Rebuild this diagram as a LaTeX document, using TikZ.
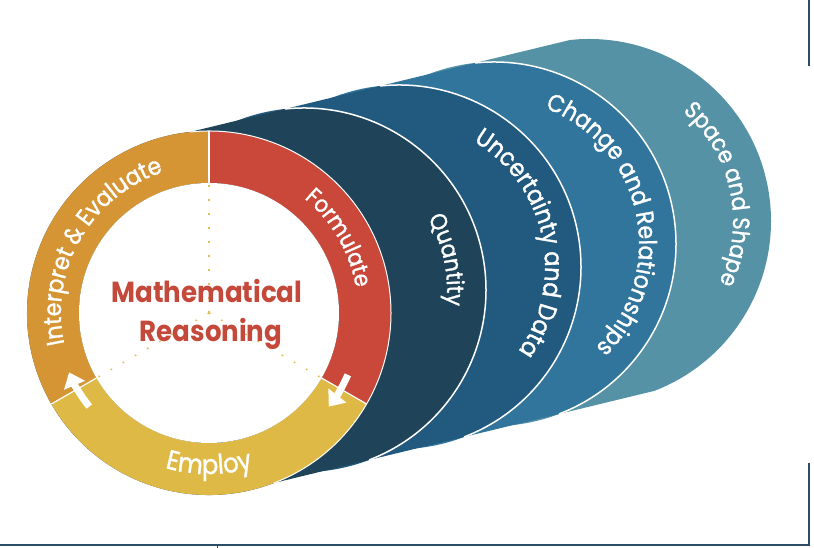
\documentclass[tikz,border=0pt]{standalone}
\usepackage{fontspec}
\setmainfont{Poppins}
\newfontfamily\lblfont[FakeStretch=0.9,FakeBold=1.3]{Poppins}
\newfontfamily\ttlfont[FakeStretch=0.9]{Poppins}
\usetikzlibrary{decorations.text,arrows.meta,calc}
\definecolor{cInterp}{HTML}{D59535}
\definecolor{cForm}{HTML}{C94839}
\definecolor{cEmploy}{HTML}{DFB946}
\definecolor{cQuant}{HTML}{1F4459}
\definecolor{cUnc}{HTML}{22597E}
\definecolor{cChange}{HTML}{31759D}
\definecolor{cSpace}{HTML}{5592A5}
\definecolor{cTitle}{HTML}{C4493A}
\definecolor{cDot}{HTML}{E6BE50}
\definecolor{cFrame}{HTML}{2D4D66}
\newcommand\discshape[3]{%
  \fill[#3] ($(#1)+(96:182pt)$) -- ($(#2)+(96:182pt)$)
    arc[start angle=96,end angle=-69,radius=182pt]
    -- ($(#1)+(-69:182pt)$) arc[start angle=-69,end angle=-264,radius=182pt] -- cycle;}
\newcommand\discedge[1]{%
  \draw[edgeline] ($(#1)+(96:182pt)$) arc[start angle=96,end angle=-69,radius=182pt];}
\newcommand\arctext[6]{% center, radius, start, end, size, text
  \path[decorate,decoration={text along path,text align=center,text color=white,
    text={|\lblfont\fontsize{#5}{#5}\selectfont|#6}}]
    ($(#1)+(#3:#2)$) arc[start angle=#3,end angle=#4,radius=#2];}
\begin{document}
\begin{tikzpicture}[x=1pt,y=1pt,
  edgeline/.style={white,line width=1.5pt},
  divline/.style={white,line width=1.2pt},
  dotline/.style={cDot,line width=1.6pt,dash pattern=on 1.6pt off 12.4pt},
  cyclearrow/.style={white,line width=7pt,-{Triangle[width=22pt,length=14pt]}},
  framel/.style={cFrame,line width=2pt},
]
\useasboundingbox (0,0) rectangle (814,548);
\coordinate (c0) at (209,235);
\coordinate (c1) at (304,258);
\coordinate (c2) at (399,281);
\coordinate (c3) at (494,304);
\coordinate (c4) at (589,327);
% discs, back to front
\discshape{c3}{c4}{cSpace}
\discshape{c2}{c3}{cChange}
\discedge{c3}
\discshape{c1}{c2}{cUnc}
\discedge{c2}
\discshape{c0}{c1}{cQuant}
\discedge{c1}
% ring
\fill[cForm] ($(c0)+(90:182pt)$) arc[start angle=90,end angle=-30,radius=182pt]
  -- ($(c0)+(-30:130pt)$) arc[start angle=-30,end angle=90,radius=130pt] -- cycle;
\fill[cEmploy] ($(c0)+(-30:182pt)$) arc[start angle=-30,end angle=-150,radius=182pt]
  -- ($(c0)+(-150:130pt)$) arc[start angle=-150,end angle=-30,radius=130pt] -- cycle;
\fill[cInterp] ($(c0)+(210:182pt)$) arc[start angle=210,end angle=90,radius=182pt]
  -- ($(c0)+(90:130pt)$) arc[start angle=90,end angle=210,radius=130pt] -- cycle;
\fill[white] (c0) circle[radius=130pt];
\draw[white,line width=1pt] ($(c0)+(96:182pt)$) arc[start angle=96,end angle=-69,radius=182pt];
\foreach \a in {90,210,330}{
  \draw[divline] ($(c0)+(\a:130pt)$) -- ($(c0)+(\a:182pt)$);
  \draw[dotline] (c0) -- ($(c0)+(\a:130pt)$);
}
% cycle arrows
\draw[cyclearrow] ($(c0)+(-24:152pt)$) arc[start angle=-24,end angle=-38,radius=152pt];
\draw[cyclearrow] ($(c0)+(218:152pt)$) arc[start angle=218,end angle=203,radius=152pt];
% ring labels
\arctext{c0}{149pt}{90}{-30}{23}{Formulate}
\arctext{c0}{148pt}{240}{60}{24.5}{Interpret {\&} Evaluate}
\arctext{c0}{161pt}{210}{330}{27}{Employ}
% disc labels
\arctext{c1}{143pt}{102}{-78}{23.5}{Quantity}
\arctext{c2}{146pt}{102}{-78}{25}{Uncertainty and Data}
\arctext{c3}{145pt}{102}{-78}{24.5}{Change and Relationships}
\arctext{c4}{144pt}{102}{-78}{23.5}{Space and Shape}
% title
\node[anchor=base,text=cTitle,font=\ttlfont\bfseries\fontsize{29}{29}\selectfont,inner sep=0pt] (mr1) at (207,245) {Mathematical};
\node[anchor=base,text=cTitle,font=\ttlfont\bfseries\fontsize{29}{29}\selectfont,inner sep=0pt] (mr2) at (211,206) {Reasoning};
% frame
\draw[framel] (809,548) -- (809,482);
\draw[framel] (809,85) -- (809,3) -- (0,3);
\draw[cFrame,line width=1pt] (217,3) -- (217,0);
\end{tikzpicture}
\end{document}
